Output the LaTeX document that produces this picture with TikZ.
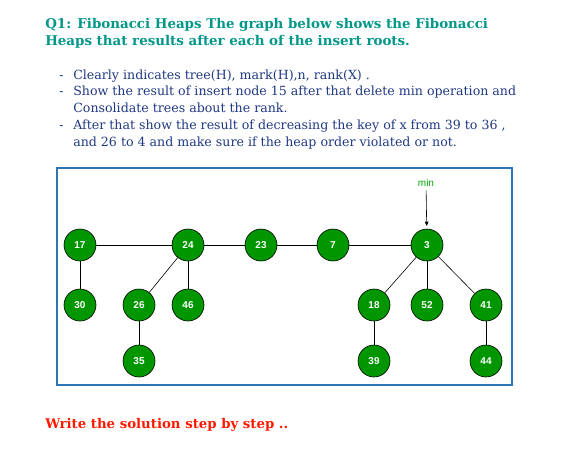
\documentclass[tikz,border=0pt]{standalone}
\usepackage{fontspec}
\setmainfont{DejaVu Serif}
\setsansfont{Liberation Sans}
\usetikzlibrary{arrows}
\definecolor{titleteal}{RGB}{0,150,136}
\definecolor{itemblue}{RGB}{31,56,130}
\definecolor{heapgreen}{RGB}{0,150,0}
\definecolor{frameblue}{RGB}{46,117,182}
\definecolor{warnred}{RGB}{255,25,0}
\definecolor{mingreen}{RGB}{0,170,0}

\begin{document}
\begin{tikzpicture}[x=1pt,y=-1pt,>=stealth',semithick,
                    heap/.style={circle,draw=black,fill=heapgreen,minimum size=32pt,
                                 inner sep=0pt,text=white,
                                 font=\sffamily\bfseries\fontsize{10}{12}\selectfont},
                    textline/.style={anchor=base west,inner sep=0pt,text=itemblue,
                                     font=\fontsize{12.6}{15}\selectfont},
                    headline/.style={anchor=base west,inner sep=0pt,text=titleteal,
                                     font=\bfseries\fontsize{13.4}{16}\selectfont}]

 \useasboundingbox (0,0) rectangle (567,456);

 % question
 \node[headline] (q1)  at (45,28) {Q1: Fibonacci Heaps The graph below shows the Fibonacci};
 \node[headline] (q2)  at (45,45) {Heaps that results after each of the insert roots.};

 \node[textline] (d1) at (59,79)  {-};
 \node[textline] (t1) at (73,79)  {Clearly indicates tree(H), mark(H),n, rank(X) .};
 \node[textline] (d2) at (59,95)  {-};
 \node[textline] (t2) at (73,95)  {Show the result of insert node 15 after that delete min operation and};
 \node[textline] (t3) at (73,112) {Consolidate trees about the rank.};
 \node[textline] (d3) at (59,129) {-};
 \node[textline] (t4) at (73,129) {After that show the result of decreasing the key of x from 39 to 36 ,};
 \node[textline] (t5) at (73,146) {and 26 to 4 and make sure if the heap order violated or not.};

 % heap
 \draw[frameblue,line width=2pt] (57,168) rectangle (512,385);

 \node[heap] (n17) at (80,245)  {17};
 \node[heap] (n24) at (188,245) {24};
 \node[heap] (n23) at (261,245) {23};
 \node[heap] (n7)  at (333,245) {7};
 \node[heap] (n3)  at (427,245) {3};

 \node[heap] (n30) at (80,305)  {30};
 \node[heap] (n26) at (139,305) {26};
 \node[heap] (n46) at (188,305) {46};
 \node[heap] (n18) at (374,305) {18};
 \node[heap] (n52) at (427,305) {52};
 \node[heap] (n41) at (486,305) {41};

 \node[heap] (n35) at (139,361) {35};
 \node[heap] (n39) at (374,361) {39};
 \node[heap] (n44) at (486,361) {44};

 \node[text=mingreen,font=\sffamily\fontsize{10}{12}\selectfont] (min) at (426,183) {min};

 \path (n17) edge (n24)
       (n24) edge (n23)
       (n23) edge (n7)
       (n7)  edge (n3)
       (n17) edge (n30)
       (n24) edge (n26)
             edge (n46)
       (n26) edge (n35)
       (n3)  edge (n18)
             edge (n52)
             edge (n41)
       (n18) edge (n39)
       (n41) edge (n44);

 \draw[->,shorten >=3pt] (min) -- (n3);

 \node[anchor=base west,inner sep=0pt,text=warnred,
       font=\bfseries\fontsize{13.3}{16}\selectfont] (note) at (45,428)
       {Write the solution step by step ..};

\end{tikzpicture}
\end{document}
